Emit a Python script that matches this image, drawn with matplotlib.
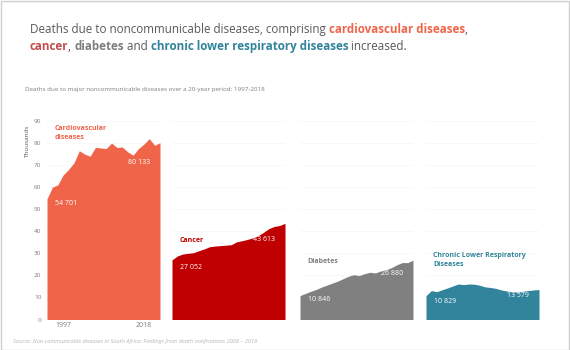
import matplotlib
matplotlib.use("Agg")
import matplotlib.pyplot as plt
import numpy as np

plt.rcParams['font.family'] = ['Open Sans', 'DejaVu Sans']

years = np.arange(1997, 2019)

cardio = [54.701, 60.0, 61.0, 65.5, 68.0, 71.0, 76.5, 75.0, 74.0, 78.0, 77.8,
          77.5, 80.0, 78.0, 78.2, 76.0, 74.5, 77.5, 79.5, 82.0, 79.0, 80.133]
cancer = [27.052, 28.8, 29.7, 30.0, 30.3, 31.2, 32.0, 33.0, 33.3, 33.5, 33.7,
          33.9, 35.2, 35.7, 36.3, 37.0, 38.0, 39.5, 41.2, 42.2, 42.6, 43.613]
diabetes = [10.846, 11.8, 12.8, 13.6, 14.7, 15.6, 16.5, 17.4, 18.5, 19.6, 20.3,
            19.9, 20.8, 21.4, 21.1, 22.0, 22.6, 23.5, 24.8, 25.8, 25.8, 26.880]
clrd = [10.829, 13.1, 12.6, 13.5, 14.3, 15.2, 16.1, 15.8, 16.1, 16.0, 15.5,
        14.8, 14.5, 14.1, 13.4, 12.9, 12.6, 12.5, 12.8, 13.1, 13.4, 13.579]

series = [cardio, cancer, diabetes, clrd]
names = ["Cardiovascular\ndiseases", "Cancer", "Diabetes",
         "Chronic Lower Respiratory\nDiseases"]
colors = ["#f0654a", "#c00000", "#808080", "#31849b"]
name_colors = ["#f0654a", "#c00000", "#7f7f7f", "#31849b"]
start_labels = ["54 701", "27 052", "10 846", "10 829"]
end_labels = ["80 133", "43 613", "26 880", "13 579"]

# label placement (in thousands)
name_y = [88, 37.5, 28, 30.5]
start_dy = [-2.3, -3.7, -2.0, -2.8]
end_dy = [-9.0, -7.5, -6.2, -2.5]

W, H = 570, 350
fig = plt.figure(figsize=(W / 100, H / 100), dpi=100)

# panel geometry in pixels (left, right)
panels = [(47, 160), (172, 285), (300, 413), (426, 539)]
top_px, bot_px = 121, 319.5

# frame
fig.add_artist(plt.Rectangle((0.5 / W, 0.5 / H), 1 - 1.5 / W, 1 - 1.5 / H,
                             transform=fig.transFigure, fill=False,
                             edgecolor="#d0d0d0", lw=1))

# title with colored words
title_parts = [
    [("Deaths due to noncommunicable diseases, comprising ", "#595959", "normal"),
     ("cardiovascular diseases", "#f0654a", "bold"),
     (",", "#595959", "normal")],
    [("cancer", "#c0504d", "bold"),
     (", ", "#595959", "normal"),
     ("diabetes", "#7f7f7f", "bold"),
     (" and ", "#595959", "normal"),
     ("chronic lower respiratory diseases", "#31849b", "bold"),
     (" increased.", "#595959", "normal")],
]
renderer = fig.canvas.get_renderer()
for li, line in enumerate(title_parts):
    x = 30
    y = H - (33 + li * 17)
    for txt, col, wt in line:
        t = fig.text(x / W, y / H, txt, color=col, fontsize=8.4, fontweight=wt,
                     va="baseline", ha="left")
        bb = t.get_window_extent(renderer)
        x += bb.width

fig.text(25 / W, 1 - 90 / H,
         "Deaths due to major noncommunicable diseases over a 20-year period: 1997-2018",
         color="#7f7f7f", fontsize=4.5, va="center", ha="left")

fig.text(13 / W, 1 - 342 / H,
         "Source: Non-communicable diseases in South Africa: Findings from death notifications 2008 \u2013 2018",
         color="#b5b5b5", fontsize=4.1, style="italic", va="center", ha="left")

for i, (vals, (l, r)) in enumerate(zip(series, panels)):
    ax = fig.add_axes([l / W, 1 - bot_px / H, (r - l) / W, (bot_px - top_px) / H])
    ax.set_xlim(years[0], years[-1])
    ax.set_ylim(0, 90)
    ax.set_yticks(np.arange(0, 91, 10))
    ax.set_xticks([])
    ax.grid(axis="y", color="#f7f7f7", lw=0.6)
    ax.set_axisbelow(True)
    ax.fill_between(years, vals, 0, color=colors[i], lw=0, zorder=2)
    for s in ax.spines.values():
        s.set_visible(False)
    ax.tick_params(length=0, labelsize=4.6, labelcolor="#7f7f7f", pad=4)
    if i == 0:
        # first / last year under the first panel
        ax.annotate(str(years[0]), xy=(years[0], 0), xytext=(6, -2),
                    textcoords="offset points", ha="left", va="top",
                    fontsize=5, color="#7f7f7f", annotation_clip=False)
        ax.annotate(str(years[-1]), xy=(years[-1], 0), xytext=(-6, -2),
                    textcoords="offset points", ha="right", va="top",
                    fontsize=5, color="#7f7f7f", annotation_clip=False)
        ax.set_ylabel("Thousands", fontsize=4.6, color="#595959", labelpad=4)
        ax.yaxis.set_label_coords(-0.15, 0.9)
    else:
        ax.set_yticklabels([])
    # series name
    ax.text(0.065, name_y[i], names[i], color=name_colors[i],
            fontsize=5, fontweight="bold", va="top", ha="left",
            transform=ax.get_yaxis_transform(), linespacing=1.3, zorder=3)
    ax.text(years[0] + 1.5, vals[0] + start_dy[i], start_labels[i], color="white",
            fontsize=5, va="center", ha="left", zorder=3)
    ax.text(years[-1] - 1.9, vals[-1] + end_dy[i], end_labels[i], color="white",
            fontsize=5, va="center", ha="right", zorder=3)

fig.savefig("out.png", dpi=100)
